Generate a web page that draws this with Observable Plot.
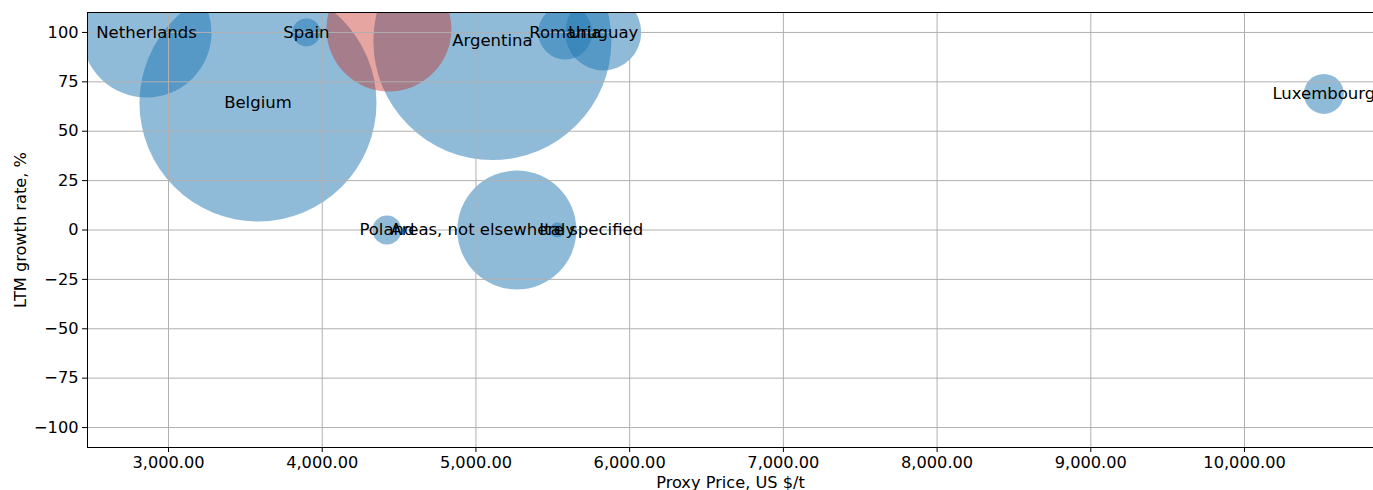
<!DOCTYPE html>
<html><head><meta charset="utf-8">
<script src="https://cdn.jsdelivr.net/npm/d3@7"></script>
<script src="https://cdn.jsdelivr.net/npm/@observablehq/plot@0.6"></script>
<style>html,body{margin:0;padding:0;background:#fff;overflow:hidden}</style>
</head><body><div id="chart"></div>
<script>
const countries = ["Netherlands", "Belgium", "Spain", "Argentina", "Romania", "Uruguay", "Luxembourg", "Poland", "Areas, not elsewhere specified", "Italy", ""];
const proxyPrice = [2857, 3582, 3897, 5107, 5581, 5828, 10516, 4421, 5266, 5529, 4434];
const growthRate = [100, 64.3, 100, 95.7, 100, 100, 68.9, 0, 0, 0, 101.8];
const volume = [4225, 14042, 196, 14161, 729, 1444, 400, 210, 3540, 56, 3906];
const focus = [false, false, false, false, false, false, false, false, false, false, true];
const xTicks = [3000, 4000, 5000, 6000, 7000, 8000, 9000, 10000];
const yTicks = [-100, -75, -50, -25, 0, 25, 50, 75, 100];
const xLabel = "Proxy Price, US $/t";
const yLabel = "LTM growth rate, %";

const data = countries.map((c, i) => ({name: c, price: proxyPrice[i], growth: growthRate[i], volume: volume[i], focus: focus[i]}));
const xDomain = [2473, 10839];
const yDomain = [-110.1, 110.1];

const chart = Plot.plot({
  width: 1373, height: 490,
  marginTop: 12, marginBottom: 43, marginLeft: 87, marginRight: 0,
  style: {fontFamily: "DejaVu Sans", fontSize: "16px", background: "white", color: "black", overflow: "hidden"},
  x: {domain: xDomain},
  y: {domain: yDomain},
  r: {type: "sqrt", domain: [0, 14161], range: [0, 119]},
  marks: [
    Plot.dot(data.filter(d => !d.focus), {x: "price", y: "growth", r: "volume", fill: "#1f77b4", fillOpacity: 0.5, stroke: "none", clip: true}),
    Plot.dot(data.filter(d => d.focus), {x: "price", y: "growth", r: "volume", fill: "#c4281e", fillOpacity: 0.42, stroke: "none", clip: true}),
    Plot.ruleX(xTicks, {stroke: "#b0b0b0", strokeWidth: 1, strokeOpacity: 1}),
    Plot.ruleY(yTicks, {stroke: "#b0b0b0", strokeWidth: 1, strokeOpacity: 1}),
    Plot.ruleX([xDomain[0]], {stroke: "black", strokeWidth: 1}),
    Plot.ruleY([yDomain[0], yDomain[1]], {stroke: "black", strokeWidth: 1}),
    Plot.axisX(xTicks, {tickFormat: d3.format(",.2f"), tickSize: 5, tickPadding: 4, fontSize: 16.2, label: null, stroke: "black"}),
    Plot.axisY(yTicks, {tickFormat: d3.format(""), tickSize: 5, tickPadding: 4, fontSize: 16.2, label: null, stroke: "black"}),
    Plot.text(data.filter(d => d.name !== ""), {x: "price", y: "growth", text: "name", fill: "black", fontSize: 16.5}),
    Plot.text([xLabel], {frameAnchor: "bottom", dy: 40, fontSize: 16.2, fill: "black"}),
    Plot.text([yLabel], {frameAnchor: "left", textAnchor: "middle", dx: -67, rotate: -90, fontSize: 16.2, fill: "black"})
  ]
});
document.getElementById("chart").appendChild(chart);
</script>
</body></html>
